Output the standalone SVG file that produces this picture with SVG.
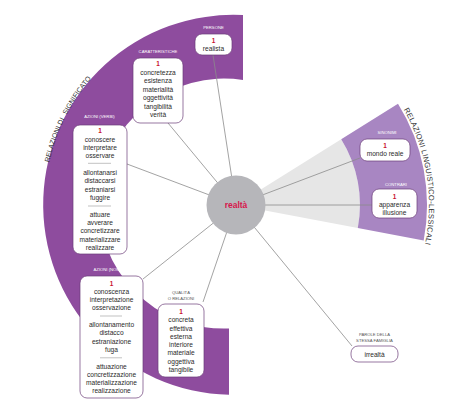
<svg xmlns="http://www.w3.org/2000/svg" width="474" height="419" viewBox="0 0 474 419">
<defs>
<style>
.band{fill:#8e4c9e}
.band2{fill:#a886c2}
.wedge{fill:#e6e6e6}
.box{fill:#fff;stroke:#6b3d78;stroke-width:0.7}
.t{font-family:"Liberation Sans",Arial,sans-serif;font-size:6.6px;fill:#2a2a2a;text-anchor:middle}
.n{font-family:"Liberation Sans",Arial,sans-serif;font-size:6.4px;fill:#c8102e;text-anchor:middle;font-weight:bold}
.lbl{font-family:"Liberation Sans",Arial,sans-serif;font-size:4.2px;fill:#fff;text-anchor:middle}
.lbl2{font-family:"Liberation Sans",Arial,sans-serif;font-size:4.2px;fill:#555;text-anchor:middle}
.arcl{font-family:"Liberation Sans",Arial,sans-serif;font-size:7px;fill:#333}
.arcr{font-family:"Liberation Sans",Arial,sans-serif;font-size:7.5px;fill:#333;letter-spacing:0.3px}
.sep{stroke:#999;stroke-width:0.6}
.conn{stroke:#8c8c8c;stroke-width:0.8;fill:none}
</style>
<path id="arcL" d="M45.3,188.1 A194 194 0 0 1 156,29.2"/>
<path id="arcR" d="M394.1,94.3 A193 193 0 0 1 410.9,286.6"/>
</defs>

<g id="bands">
<path class="band" d="M243,15.1 A190 190 0 1 0 229,394.8 L229,328.5 A125 125 0 1 1 243,80.1 Z"/>
<path class="wedge" d="M236,205 L341.2,139.3 A124 124 0 0 1 357.8,228 Z"/>
<path class="band2" d="M341.2,139.3 L398,103.8 A191 191 0 0 1 423.7,240.5 L357.8,228 A124 124 0 0 0 341.2,139.3 Z"/>
<text class="arcl"><textPath href="#arcL" startOffset="26">RELAZIONI</textPath></text>
<text class="arcl"><textPath href="#arcL" startOffset="65">DI</textPath></text>
<text class="arcl"><textPath href="#arcL" startOffset="76.5">SIGNIFICATO</textPath></text>
<text class="arcr"><textPath href="#arcR" startOffset="18">RELAZIONI</textPath></text>
<text class="arcr"><textPath href="#arcR" startOffset="62.7">LINGUISTICO-LESSICALI</textPath></text>
</g>

<g id="connectors">
<line class="conn" x1="213" y1="55" x2="236" y2="205"/>
<line class="conn" x1="168" y1="123" x2="236" y2="205"/>
<line class="conn" x1="127" y1="164" x2="236" y2="205"/>
<line class="conn" x1="143" y1="279" x2="236" y2="205"/>
<line class="conn" x1="203" y1="302" x2="236" y2="205"/>
<line class="conn" x1="360" y1="158" x2="236" y2="205"/>
<line class="conn" x1="372" y1="205" x2="236" y2="205"/>
<line class="conn" x1="352" y1="346" x2="236" y2="205"/>
</g>

<g id="realta">
<circle cx="236" cy="205" r="29.5" fill="#b6b6ba"/>
<text x="236" y="208" font-family="Liberation Sans, Arial, sans-serif" font-size="8.5" font-weight="bold" fill="#d6154c" text-anchor="middle">realtà</text>
</g>

<g id="persone">
<text class="lbl" x="213.5" y="28.5">PERSONE</text>
<rect class="box" x="195" y="34" width="37" height="21" rx="7"/>
<text class="n" x="213.5" y="43">1</text>
<text class="t" x="213.5" y="51.2">realista</text>
</g>

<g id="caratteristiche">
<text class="lbl" x="158" y="53.3">CARATTERISTICHE</text>
<rect class="box" x="133" y="58" width="50" height="65" rx="7"/>
<text class="n" x="158" y="66.2">1</text>
<text class="t" x="158" y="74.7">concretezza</text>
<text class="t" x="158" y="83.1">esistenza</text>
<text class="t" x="158" y="91.6">materialità</text>
<text class="t" x="158" y="100.1">oggettività</text>
<text class="t" x="158" y="108.5">tangibilità</text>
<text class="t" x="158" y="117">verità</text>
</g>

<g id="azioni-verbi">
<text class="lbl" x="99.5" y="118.3">AZIONI (VERBI)</text>
<rect class="box" x="73" y="125" width="54" height="129" rx="7"/>
<text class="n" x="100" y="132.9">1</text>
<text class="t" x="100" y="141.5">conoscere</text>
<text class="t" x="100" y="149.9">interpretare</text>
<text class="t" x="100" y="158.2">osservare</text>
<line class="sep" x1="88" y1="163.3" x2="111" y2="163.3"/>
<text class="t" x="100" y="174.5">allontanarsi</text>
<text class="t" x="100" y="182.9">distaccarsi</text>
<text class="t" x="100" y="191.5">estraniarsi</text>
<text class="t" x="100" y="199.9">fuggire</text>
<line class="sep" x1="88" y1="206" x2="111" y2="206"/>
<text class="t" x="100" y="216.5">attuare</text>
<text class="t" x="100" y="224.9">avverare</text>
<text class="t" x="100" y="233.2">concretizzare</text>
<text class="t" x="100" y="241.5">materializzare</text>
<text class="t" x="100" y="249.9">realizzare</text>
</g>

<g id="azioni-nomi">
<text class="lbl" x="108" y="271.3">AZIONI (NOMI)</text>
<rect class="box" x="80" y="276" width="63" height="122" rx="7"/>
<text class="n" x="111.5" y="285.5">1</text>
<text class="t" x="111.5" y="293.8">conoscenza</text>
<text class="t" x="111.5" y="302.1">interpretazione</text>
<text class="t" x="111.5" y="310.4">osservazione</text>
<line class="sep" x1="100" y1="316" x2="122" y2="316"/>
<text class="t" x="111.5" y="326.9">allontanamento</text>
<text class="t" x="111.5" y="335.2">distacco</text>
<text class="t" x="111.5" y="343.5">estraniazione</text>
<text class="t" x="111.5" y="351.8">fuga</text>
<line class="sep" x1="100" y1="357.8" x2="122" y2="357.8"/>
<text class="t" x="111.5" y="368.7">attuazione</text>
<text class="t" x="111.5" y="376.8">concretizzazione</text>
<text class="t" x="111.5" y="384.9">materializzazione</text>
<text class="t" x="111.5" y="393.2">realizzazione</text>
</g>

<g id="qualita">
<text class="lbl2" x="181" y="294">QUALITÀ</text>
<text class="lbl2" x="181" y="300.3">O RELAZIONI</text>
<rect class="box" x="158" y="304" width="46" height="73" rx="7"/>
<text class="n" x="181" y="313.9">1</text>
<text class="t" x="181" y="322.2">concreta</text>
<text class="t" x="181" y="330.5">effettiva</text>
<text class="t" x="181" y="338.8">esterna</text>
<text class="t" x="181" y="347.1">interiore</text>
<text class="t" x="181" y="355.4">materiale</text>
<text class="t" x="181" y="363.7">oggettiva</text>
<text class="t" x="181" y="371.6">tangibile</text>
</g>

<g id="sinonimi">
<text class="lbl" x="387" y="133.6">SINONIMI</text>
<rect class="box" x="360" y="139" width="50" height="22" rx="7"/>
<text class="n" x="385" y="147.7">1</text>
<text class="t" x="385" y="156">mondo reale</text>
</g>

<g id="contrari">
<text class="lbl" x="396" y="185.6">CONTRARI</text>
<rect class="box" x="372" y="189" width="45" height="29" rx="7"/>
<text class="n" x="394.5" y="198.6">1</text>
<text class="t" x="394.5" y="206.6">apparenza</text>
<text class="t" x="394.5" y="214.6">illusione</text>
</g>

<g id="parole">
<text class="lbl2" x="374.5" y="336.3">PAROLE DELLA</text>
<text class="lbl2" x="374.5" y="342.3">STESSA FAMIGLIA</text>
<rect class="box" x="351" y="346" width="47" height="16" rx="7"/>
<text class="t" x="374.5" y="356.5">irrealtà</text>
</g>
</svg>
